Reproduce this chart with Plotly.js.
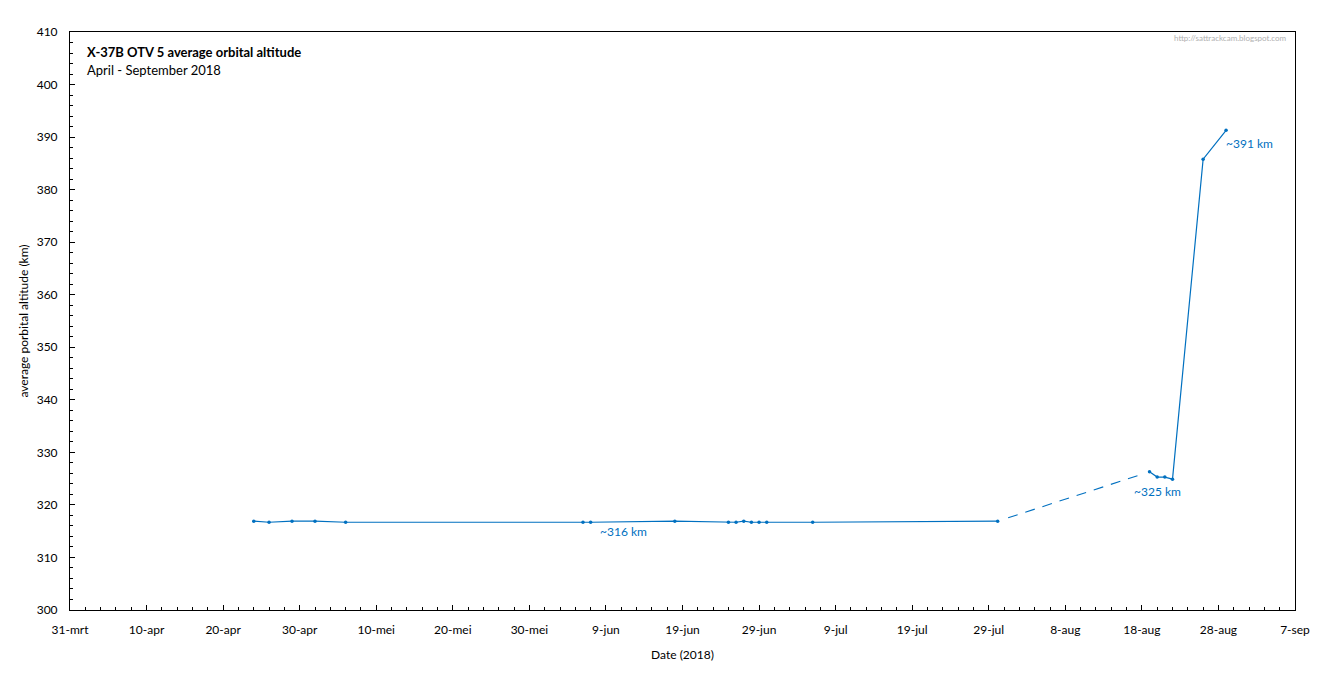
<!DOCTYPE html>
<html>
<head>
<meta charset="utf-8">
<script src="https://cdn.plot.ly/plotly-3.0.1.min.js"></script>
<style>
  html, body { margin: 0; padding: 0; background: #ffffff; }
  #chart { width: 1337px; height: 677px; }
</style>
</head>
<body>
<div id="chart"></div>
<script>
let obsDates = [
    '2018-04-24', '2018-04-26', '2018-04-29', '2018-05-02', '2018-05-06',
    '2018-06-06', '2018-06-07', '2018-06-18', '2018-06-25', '2018-06-26',
    '2018-06-27', '2018-06-28', '2018-06-29', '2018-06-30', '2018-07-06',
    '2018-07-30 04:00',
    '2018-08-19', '2018-08-20', '2018-08-21', '2018-08-22',
    '2018-08-26', '2018-08-29'
];
let obsAltitude = [
    316.9, 316.7, 316.9, 316.9, 316.7,
    316.7, 316.7, 316.9, 316.7, 316.7,
    316.9, 316.7, 316.7, 316.7, 316.7,
    316.9,
    326.3, 325.3, 325.3, 324.9,
    385.8, 391.3
];
// index where the gap in observations starts (drawn dashed)
let gapStart = 15;

let tickDates = [
    '2018-03-31', '2018-04-10', '2018-04-20', '2018-04-30', '2018-05-10',
    '2018-05-20', '2018-05-30', '2018-06-09', '2018-06-19', '2018-06-29',
    '2018-07-09', '2018-07-19', '2018-07-29', '2018-08-08', '2018-08-18',
    '2018-08-28', '2018-09-07'
];
let tickLabels = [
    '31-mrt', '10-apr', '20-apr', '30-apr', '10-mei',
    '20-mei', '30-mei', '9-jun', '19-jun', '29-jun',
    '9-jul', '19-jul', '29-jul', '8-aug', '18-aug',
    '28-aug', '7-sep'
];

let blue = '#0070C0';
let font = 'Lato, "Open Sans", sans-serif';

let before = {
    x: obsDates.slice(0, gapStart + 1),
    y: obsAltitude.slice(0, gapStart + 1),
    type: 'scatter',
    mode: 'lines+markers',
    line: { color: blue, width: 1.2 },
    marker: { color: blue, size: 3.5 },
    hoverinfo: 'x+y'
};
// dashed link across the gap, leaving a little space at both ends
let bridge = {
    x: obsDates.slice(gapStart, gapStart + 2),
    y: obsAltitude.slice(gapStart, gapStart + 2),
    type: 'scatter',
    mode: 'lines',
    line: { color: blue, width: 1.1, dash: '0px,11px,10px,8px,10px,8px,10px,8px,10px,8px,10px,8px,10px,8px,10px,8px,10px,40px' },
    hoverinfo: 'skip'
};
let after = {
    x: obsDates.slice(gapStart + 1),
    y: obsAltitude.slice(gapStart + 1),
    type: 'scatter',
    mode: 'lines+markers',
    line: { color: blue, width: 1.2 },
    marker: { color: blue, size: 3.5 },
    hoverinfo: 'x+y'
};
let data = [bridge, before, after];

// Layout of the chart
let layout = {
    width: 1337,
    height: 677,
    showlegend: false,
    paper_bgcolor: '#ffffff',
    plot_bgcolor: '#ffffff',
    font: { family: font, size: 12, color: '#000000' },
    margin: { l: 70, r: 42, t: 32, b: 67 },
    xaxis: {
        type: 'date',
        range: ['2018-03-31', '2018-09-07'],
        tickmode: 'array',
        tickvals: tickDates,
        ticktext: tickLabels,
        ticks: 'inside',
        ticklen: 5,
        tickcolor: '#000000',
        ticklabelstandoff: 9,
        minor: { dtick: 2 * 86400000, tick0: '2018-03-31', ticks: 'inside', ticklen: 3, tickcolor: '#000000' },
        showgrid: false,
        zeroline: false,
        showline: true,
        linecolor: '#000000',
        linewidth: 1,
        mirror: true,
        tickfont: { size: 12 },
        title: { text: 'Date (2018)', font: { size: 12 }, standoff: 14 },
        fixedrange: true
    },
    yaxis: {
        range: [300, 410],
        dtick: 10,
        ticks: 'inside',
        ticklen: 5,
        tickcolor: '#000000',
        ticklabelstandoff: 9,
        minor: { dtick: 2, ticks: 'inside', ticklen: 3, tickcolor: '#000000' },
        showgrid: false,
        zeroline: false,
        showline: true,
        linecolor: '#000000',
        linewidth: 1,
        mirror: true,
        tickfont: { size: 12 },
        title: { text: 'average porbital altitude (km)', font: { size: 12 }, standoff: 5 },
        fixedrange: true
    },
    annotations: [
        {
            text: '<b>X-37B OTV 5 average orbital altitude</b>',
            xref: 'paper', yref: 'paper', x: 0.0125, y: 0.965,
            xanchor: 'left', yanchor: 'middle', showarrow: false,
            font: { size: 13 }
        },
        {
            text: 'April - September 2018',
            xref: 'paper', yref: 'paper', x: 0.0125, y: 0.934,
            xanchor: 'left', yanchor: 'middle', showarrow: false,
            font: { size: 13 }
        },
        {
            text: 'http://sattrackcam.blogspot.com',
            xref: 'paper', yref: 'paper', x: 0.995, y: 0.990,
            xanchor: 'right', yanchor: 'middle', showarrow: false,
            font: { size: 8, color: '#b0b0b0' }
        },
        {
            text: '~316 km',
            xref: 'x', yref: 'y', x: '2018-06-11 06:00', y: 315.0,
            xanchor: 'center', yanchor: 'middle', showarrow: false,
            font: { size: 12, color: blue }
        },
        {
            text: '~325 km',
            xref: 'x', yref: 'y', x: '2018-08-20 00:00', y: 322.6,
            xanchor: 'center', yanchor: 'middle', showarrow: false,
            font: { size: 12, color: blue }
        },
        {
            text: '~391 km',
            xref: 'x', yref: 'y', x: '2018-09-01 00:00', y: 388.8,
            xanchor: 'center', yanchor: 'middle', showarrow: false,
            font: { size: 12, color: blue }
        }
    ]
};

// General chart configuration
let config = {
    displayModeBar: false,
    staticPlot: true
};

Plotly.newPlot(document.getElementById('chart'), data, layout, config);
</script>
</body>
</html>
